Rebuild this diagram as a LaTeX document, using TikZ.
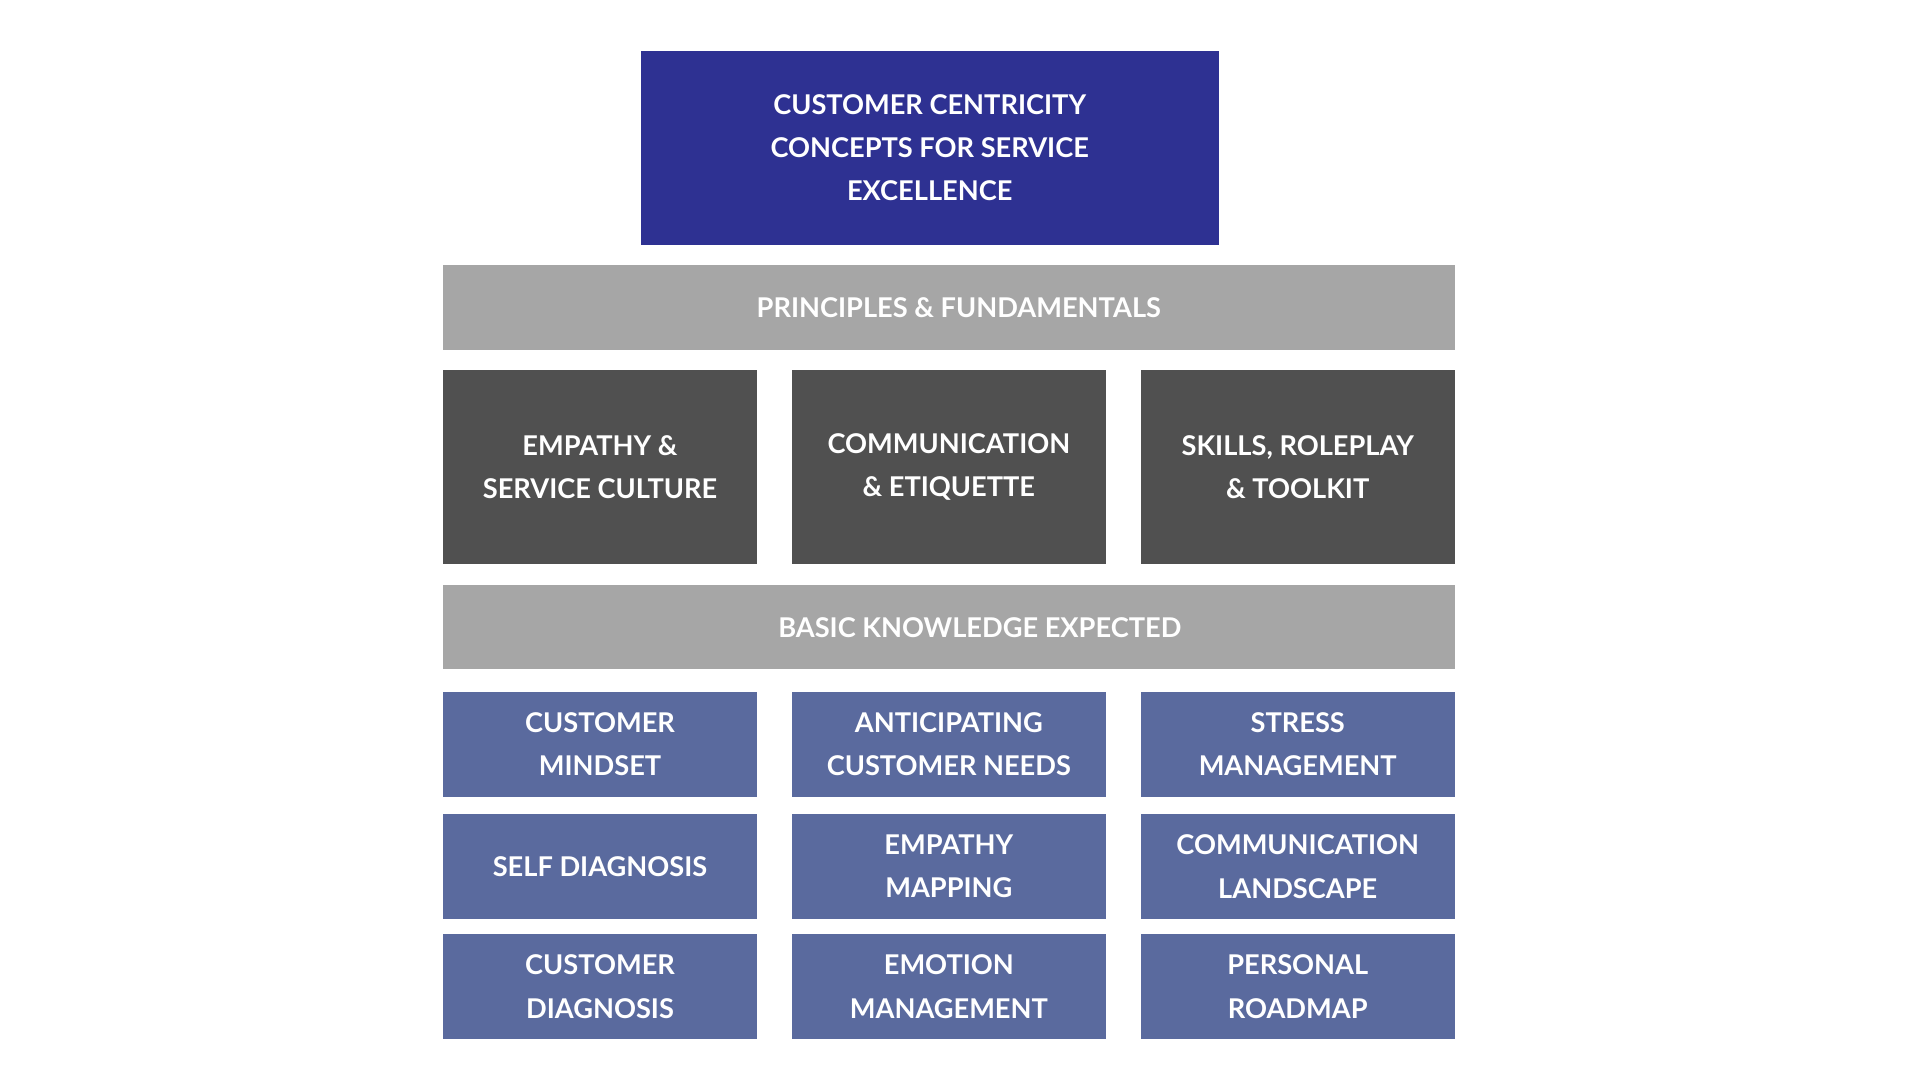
\documentclass[tikz,border=0pt]{standalone}
\usepackage{fontspec}
\setmainfont{Lato}
\definecolor{topblue}{HTML}{2E3192}
\definecolor{barg}{HTML}{A6A6A6}
\definecolor{darkg}{HTML}{505050}
\definecolor{itemb}{HTML}{5A6A9E}
\begin{document}
\begin{tikzpicture}[x=1pt,y=-1pt,
  box/.style={inner sep=0pt,text=white,align=center,font=\bfseries\fontsize{22}{35}\selectfont}]
\useasboundingbox[fill=white] (0,0) rectangle (1552,873);
\newcommand\bx[6]{\fill[#5] (#1,#2) rectangle (#3,#4);
  \node[box] (#6) at ({(#1+#3)/2},{(#2+#4)/2}) {\strut};}
\fill[topblue] (518,41) rectangle (985,198);
\node[box] (top) at (751.5,119.5) {CUSTOMER CENTRICITY\\CONCEPTS FOR SERVICE\\EXCELLENCE};
\fill[barg] (358,214) rectangle (1176,283);
\node[box] (pf) at (775,248.5) {PRINCIPLES \& FUNDAMENTALS};
\fill[darkg] (358,299) rectangle (612,456);
\node[box] (d1) at (485,377.5) {EMPATHY \&\\SERVICE CULTURE};
\fill[darkg] (640,299) rectangle (894,456);
\node[box] (d2) at (767,377.5) {COMMUNICATION\\\& ETIQUETTE};
\fill[darkg] (922,299) rectangle (1176,456);
\node[box] (d3) at (1049,377.5) {SKILLS, ROLEPLAY\\\& TOOLKIT};
\fill[barg] (358,473) rectangle (1176,541);
\node[box] (bk) at (792,507) {BASIC KNOWLEDGE EXPECTED};
\foreach \x in {358,640,922}{
  \foreach \y/\h in {559/644,658/743,755/840}{
    \fill[itemb] (\x,\y) rectangle ({\x+254},\h);}}
\node[box] (a1) at (485,601.5) {CUSTOMER\\MINDSET};
\node[box] (a2) at (767,601.5) {ANTICIPATING\\CUSTOMER NEEDS};
\node[box] (a3) at (1049,601.5) {STRESS\\MANAGEMENT};
\node[box] (b1) at (485,700.5) {SELF DIAGNOSIS};
\node[box] (b2) at (767,700.5) {EMPATHY\\MAPPING};
\node[box] (b3) at (1049,700.5) {COMMUNICATION\\LANDSCAPE};
\node[box] (c1) at (485,797.5) {CUSTOMER\\DIAGNOSIS};
\node[box] (c2) at (767,797.5) {EMOTION\\MANAGEMENT};
\node[box] (c3) at (1049,797.5) {PERSONAL\\ROADMAP};
\end{tikzpicture}
\end{document}
